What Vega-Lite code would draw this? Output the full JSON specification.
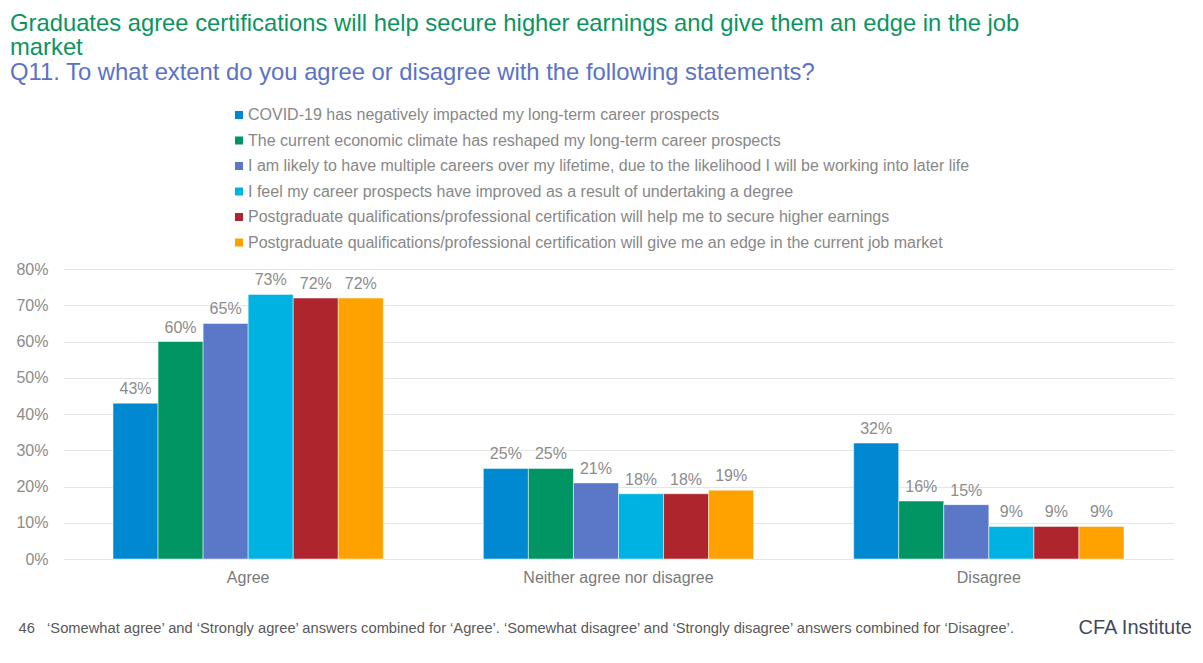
{
  "$schema": "https://vega.github.io/schema/vega-lite/v6.json",
  "width": 1111,
  "height": 290,
  "autosize": {"type": "none"},
  "padding": {"left": 63, "top": 269, "right": 29, "bottom": 104},
  "background": "white",
  "title": {
    "text": ["Graduates agree certifications will help secure higher earnings and give them an edge in the job", "market"],
    "subtitle": "Q11. To what extent do you agree or disagree with the following statements?",
    "anchor": "start",
    "frame": "group",
    "orient": "top",
    "dx": -53,
    "offset": 22,
    "font": "Liberation Sans",
    "fontSize": 23.8,
    "fontWeight": "normal",
    "color": "#0B9460",
    "lineHeight": 24.5,
    "subtitleFont": "Liberation Sans",
    "subtitleFontSize": 23.8,
    "subtitleColor": "#5B72C6",
    "subtitleLineHeight": 24.5,
    "subtitlePadding": 1
  },
  "data": {
    "values": [
      {"response": "Agree", "statement": "COVID-19 has negatively impacted my long-term career prospects", "share": 0.43},
      {"response": "Agree", "statement": "The current economic climate has reshaped my long-term career prospects", "share": 0.60},
      {"response": "Agree", "statement": "I am likely to have multiple careers over my lifetime, due to the likelihood I will be working into later life", "share": 0.65},
      {"response": "Agree", "statement": "I feel my career prospects have improved as a result of undertaking a degree", "share": 0.73},
      {"response": "Agree", "statement": "Postgraduate qualifications/professional certification will help me to secure higher earnings", "share": 0.72},
      {"response": "Agree", "statement": "Postgraduate qualifications/professional certification will give me an edge in the current job market", "share": 0.72},
      {"response": "Neither agree nor disagree", "statement": "COVID-19 has negatively impacted my long-term career prospects", "share": 0.25},
      {"response": "Neither agree nor disagree", "statement": "The current economic climate has reshaped my long-term career prospects", "share": 0.25},
      {"response": "Neither agree nor disagree", "statement": "I am likely to have multiple careers over my lifetime, due to the likelihood I will be working into later life", "share": 0.21},
      {"response": "Neither agree nor disagree", "statement": "I feel my career prospects have improved as a result of undertaking a degree", "share": 0.18},
      {"response": "Neither agree nor disagree", "statement": "Postgraduate qualifications/professional certification will help me to secure higher earnings", "share": 0.18},
      {"response": "Neither agree nor disagree", "statement": "Postgraduate qualifications/professional certification will give me an edge in the current job market", "share": 0.19},
      {"response": "Disagree", "statement": "COVID-19 has negatively impacted my long-term career prospects", "share": 0.32},
      {"response": "Disagree", "statement": "The current economic climate has reshaped my long-term career prospects", "share": 0.16},
      {"response": "Disagree", "statement": "I am likely to have multiple careers over my lifetime, due to the likelihood I will be working into later life", "share": 0.15},
      {"response": "Disagree", "statement": "I feel my career prospects have improved as a result of undertaking a degree", "share": 0.09},
      {"response": "Disagree", "statement": "Postgraduate qualifications/professional certification will help me to secure higher earnings", "share": 0.09},
      {"response": "Disagree", "statement": "Postgraduate qualifications/professional certification will give me an edge in the current job market", "share": 0.09}
    ]
  },
  "encoding": {
    "x": {
      "field": "response",
      "type": "nominal",
      "sort": ["Agree", "Neither agree nor disagree", "Disagree"],
      "scale": {"paddingInner": 0.27, "paddingOuter": 0.135},
      "axis": {
        "labelAngle": 0,
        "labelFont": "Liberation Sans",
        "labelFontSize": 16,
        "labelColor": "#7A7A7A",
        "labelPadding": 10,
        "labelLimit": 400,
        "ticks": false,
        "domain": false,
        "title": "46\u00a0\u00a0\u00a0‘Somewhat agree’ and ‘Strongly agree’ answers combined for ‘Agree’. ‘Somewhat disagree’ and ‘Strongly disagree’ answers combined for ‘Disagree’.",
        "titleFont": "Liberation Sans",
        "titleFontSize": 14.7,
        "titleFontWeight": "normal",
        "titleColor": "#595959",
        "titleAnchor": "start",
        "titleAlign": "left",
        "titleBaseline": "alphabetic",
        "titleX": -45,
        "titleY": 73
      }
    },
    "xOffset": {
      "field": "statement",
      "type": "nominal",
      "sort": [
        "COVID-19 has negatively impacted my long-term career prospects",
        "The current economic climate has reshaped my long-term career prospects",
        "I am likely to have multiple careers over my lifetime, due to the likelihood I will be working into later life",
        "I feel my career prospects have improved as a result of undertaking a degree",
        "Postgraduate qualifications/professional certification will help me to secure higher earnings",
        "Postgraduate qualifications/professional certification will give me an edge in the current job market"
      ],
      "scale": {"paddingInner": 0, "paddingOuter": 0}
    },
    "y": {
      "field": "share",
      "type": "quantitative",
      "scale": {"domain": [0, 0.8]},
      "axis": {
        "format": ".0%",
        "values": [0, 0.1, 0.2, 0.3, 0.4, 0.5, 0.6, 0.7, 0.8],
        "labelFont": "Liberation Sans",
        "labelFontSize": 16,
        "labelColor": "#8C8C8C",
        "labelPadding": 15,
        "ticks": false,
        "domain": false,
        "grid": true,
        "gridColor": "#E6E6E6",
        "gridWidth": 1,
        "title": "CFA Institute",
        "titleAngle": 0,
        "titleFont": "Liberation Sans",
        "titleFontSize": 20,
        "titleFontWeight": "normal",
        "titleColor": "#3F4B5E",
        "titleAlign": "left",
        "titleBaseline": "alphabetic",
        "titleX": 1015,
        "titleY": 364
      }
    }
  },
  "layer": [
    {
      "mark": {"type": "bar", "stroke": "white", "strokeWidth": 0.5},
      "encoding": {
        "color": {
          "field": "statement",
          "type": "nominal",
          "scale": {
            "domain": [
              "COVID-19 has negatively impacted my long-term career prospects",
              "The current economic climate has reshaped my long-term career prospects",
              "I am likely to have multiple careers over my lifetime, due to the likelihood I will be working into later life",
              "I feel my career prospects have improved as a result of undertaking a degree",
              "Postgraduate qualifications/professional certification will help me to secure higher earnings",
              "Postgraduate qualifications/professional certification will give me an edge in the current job market"
            ],
            "range": ["#0089D0", "#009563", "#5B77C8", "#00B2E2", "#AF252D", "#FFA200"]
          },
          "legend": {
            "orient": "none",
            "legendX": 168,
            "legendY": -162,
            "title": null,
            "symbolType": "square",
            "symbolSize": 64,
            "symbolStrokeWidth": 0,
            "labelFont": "Liberation Sans",
            "labelFontSize": 16,
            "labelColor": "#888888",
            "labelOffset": 1,
            "labelLimit": 900,
            "rowPadding": 9.5,
            "padding": 0
          }
        }
      }
    },
    {
      "mark": {
        "type": "text",
        "baseline": "alphabetic",
        "dy": -9,
        "font": "Liberation Sans",
        "fontSize": 16,
        "color": "#8C8C8C"
      },
      "encoding": {
        "text": {"field": "share", "type": "quantitative", "format": ".0%"}
      }
    }
  ],
  "config": {
    "view": {"stroke": null}
  }
}
